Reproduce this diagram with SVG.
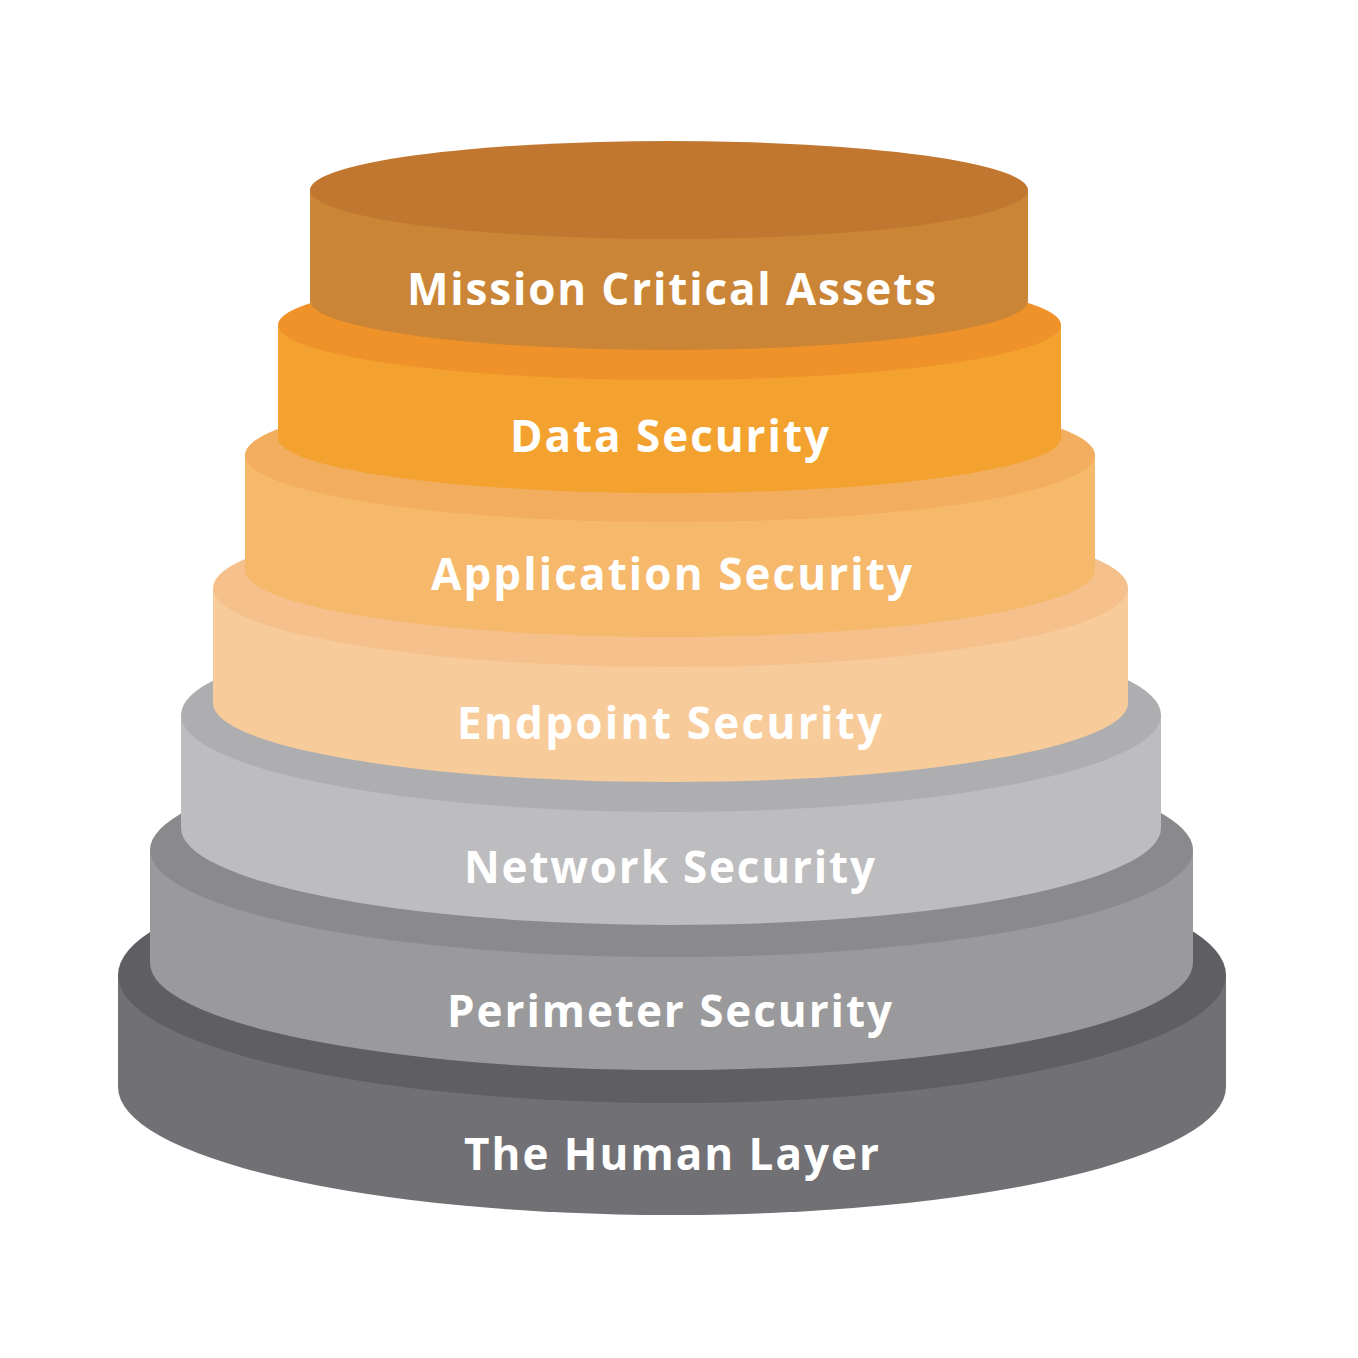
<svg xmlns="http://www.w3.org/2000/svg" width="1358" height="1358" viewBox="0 0 1358 1358">
<style>
text{font-family:"Open Sans","Liberation Sans",sans-serif;font-weight:700;font-size:44px;fill:#fff;text-anchor:middle;letter-spacing:1px}
</style>
<rect width="1358" height="1358" fill="#fff"/>
<g id="human">
<path d="M118,975 L118,1087 A554,128 0 0 0 1226,1087 L1226,975 Z" fill="#717074"/>
<ellipse cx="672" cy="975" rx="554" ry="128" fill="#5F5E62"/>
</g>
<g id="perimeter">
<path d="M150,850 L150,963 A521,107 0 0 0 1193,963 L1193,850 Z" fill="#9A9A9C"/>
<ellipse cx="671.5" cy="850" rx="521.5" ry="107" fill="#8A8A8C"/>
</g>
<g id="network">
<path d="M181,715 L181,828 A490,97 0 0 0 1161,828 L1161,715 Z" fill="#BDBDBF"/>
<ellipse cx="671" cy="715" rx="490" ry="97" fill="#AEAEB0"/>
</g>
<g id="endpoint">
<path d="M213,588 L213,703 A457.5,79 0 0 0 1128,703 L1128,588 Z" fill="#F7CC9A"/>
<ellipse cx="670.5" cy="588" rx="457.5" ry="79" fill="#F5C08C"/>
</g>
<g id="application">
<path d="M245,455 L245,570 A425,67 0 0 0 1095,570 L1095,455 Z" fill="#F6B86A"/>
<ellipse cx="670" cy="455" rx="425" ry="67" fill="#F2AD5E"/>
</g>
<g id="data">
<path d="M278,325 L278,438 A391.5,55 0 0 0 1061,438 L1061,325 Z" fill="#F4A22F"/>
<ellipse cx="669.5" cy="325" rx="391.5" ry="55" fill="#F0922A"/>
</g>
<g id="mission">
<path d="M310,190 L310,301 A359,49 0 0 0 1028,301 L1028,190 Z" fill="#CB8536"/>
<ellipse cx="669" cy="190" rx="359" ry="49" fill="#C1772F"/>
</g>
<g id="labels">
<text x="672" y="305" textLength="530">Mission Critical Assets</text>
<text x="670" y="452" textLength="320">Data Security</text>
<text x="672" y="590" textLength="482">Application Security</text>
<text x="670" y="739" textLength="426">Endpoint Security</text>
<text x="670" y="883" textLength="412">Network Security</text>
<text x="670" y="1027" textLength="446">Perimeter Security</text>
<text x="672" y="1170" textLength="416">The Human Layer</text>
</g>
<g id="connectors"/>
</svg>
